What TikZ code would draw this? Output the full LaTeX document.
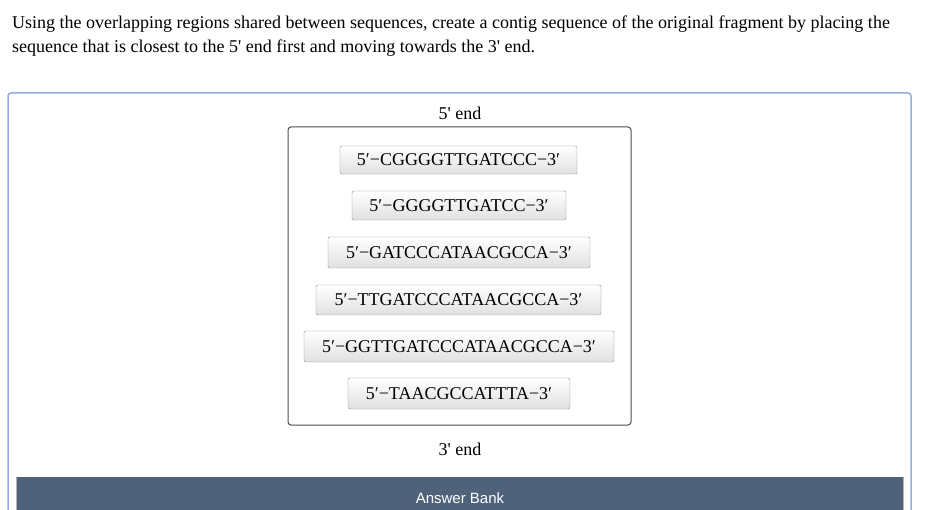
\documentclass[tikz,border=0pt]{standalone}
\usepackage{fontspec}
\setmainfont{Liberation Serif}
\newfontfamily\uisans{Liberation Sans}
\definecolor{frameblue}{RGB}{150,172,228}
\definecolor{bankbar}{RGB}{80,98,122}
\begin{document}
\begin{tikzpicture}[x=1pt,y=-1pt,
  seq/.style={draw=black!45,rounded corners=2pt,top color=white,bottom color=black!12,inner sep=0pt,font=\fontsize{18}{21}\selectfont},
  txt/.style={font=\fontsize{18}{21}\selectfont,inner sep=0pt}]
\useasboundingbox (0,0) rectangle (931,510);
\fill[white] (0,0) rectangle (931,510);
\node[txt,anchor=west] (l1) at (12,24) {Using the overlapping regions shared between sequences, create a contig sequence of the original fragment by placing the};
\node[txt,anchor=west] (l2) at (12,48) {sequence that is closest to the 5\textquotesingle{} end first and moving towards the 3\textquotesingle{} end.};
\draw[draw=frameblue,line width=1.5pt,rounded corners=3pt] (8,530) -- (8,93) -- (911,93) -- (911,530);
\node[txt] (top) at (460,113) {5\textquotesingle{} end};
\draw[draw=black!70,line width=1pt,rounded corners=3pt] (288,127) rectangle (631,425);
\node[seq,minimum width=237pt,minimum height=28pt] (s1) at (458.5,160) {5′−CGGGGTTGATCCC−3′};
\node[seq,minimum width=214pt,minimum height=29pt] (s2) at (459,205.5) {5′−GGGGTTGATCC−3′};
\node[seq,minimum width=262pt,minimum height=31pt] (s3) at (459,252.5) {5′−GATCCCATAACGCCA−3′};
\node[seq,minimum width=285pt,minimum height=30pt] (s4) at (458.5,300) {5′−TTGATCCCATAACGCCA−3′};
\node[seq,minimum width=310pt,minimum height=31pt] (s5) at (459,346.5) {5′−GGTTGATCCCATAACGCCA−3′};
\node[seq,minimum width=222pt,minimum height=31pt] (s6) at (459,393.5) {5′−TAACGCCATTTA−3′};
\node[txt] (bot) at (460,449) {3\textquotesingle{} end};
\fill[bankbar] (16,477) rectangle (903,515);
\draw[black!30] (16,477) -- (16,515) (903,477) -- (903,515);
\node[font=\uisans\fontsize{15}{17}\selectfont,text=white,inner sep=0pt] (ab) at (460,498) {Answer Bank};
\end{tikzpicture}
\end{document}
